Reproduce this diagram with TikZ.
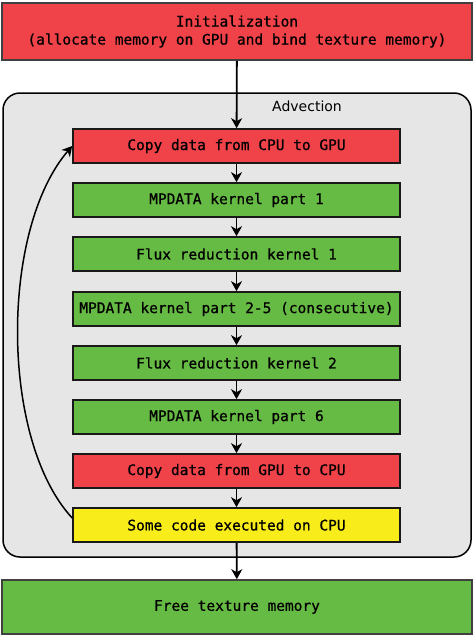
\documentclass[tikz,border=0pt]{standalone}
\usepackage{fontspec}
\setmonofont[FakeBold=0.7]{DejaVu Sans Mono}
\setsansfont{DejaVu Sans}
\usetikzlibrary{arrows.meta,calc}
\definecolor{boxred}{RGB}{240,67,73}
\definecolor{boxgreen}{RGB}{102,187,68}
\definecolor{boxyellow}{RGB}{248,236,26}
\definecolor{contgray}{RGB}{230,230,230}
\begin{document}
\begin{tikzpicture}[x=1pt,y=-1pt,
  every node/.style={font=\ttfamily\fontsize{14.5}{18}\selectfont, text=black},
  stepbox/.style={draw=black!90, line width=1.6pt, minimum width=327pt, minimum height=34pt, inner sep=0pt, align=center},
  widebox/.style={draw=black!75, line width=1.6pt, minimum width=470pt, inner sep=0pt, align=center},
  flow/.style={-{Stealth[length=10pt,width=11pt,inset=3pt]}, line width=1.8pt, black}]
\useasboundingbox (0,0) rectangle (474,635);
\fill[white] (0,0) rectangle (474,635);
% container
\node[draw=black, line width=1.5pt, fill=contgray, rounded corners=17pt, minimum width=468pt, minimum height=464pt, inner sep=0pt] (adv) at (237,325) {};
\node[font=\sffamily\fontsize{14}{16}\selectfont] (advlabel) at (307,106) {Advection};
% boxes
\node[widebox, fill=boxred, minimum height=57pt] (init) at (237,31.5) {Initialization\\(allocate memory on GPU and bind texture memory)};
\node[stepbox, fill=boxred] (c1) at (236.5,146) {Copy data from CPU to GPU};
\node[stepbox, fill=boxgreen] (k1) at (236.5,200) {MPDATA kernel part 1};
\node[stepbox, fill=boxgreen] (f1) at (236.5,254) {Flux reduction kernel 1};
\node[stepbox, fill=boxgreen] (k2) at (236.5,309) {MPDATA kernel part 2-5 (consecutive)};
\node[stepbox, fill=boxgreen] (f2) at (236.5,363) {Flux reduction kernel 2};
\node[stepbox, fill=boxgreen] (k6) at (236.5,417) {MPDATA kernel part 6};
\node[stepbox, fill=boxred] (c2) at (236.5,471) {Copy data from GPU to CPU};
\node[stepbox, fill=boxyellow] (code) at (236.5,525) {Some code executed on CPU};
\node[widebox, fill=boxgreen, minimum height=54pt] (free) at (237,607) {Free texture memory};
% arrows
\draw[flow] (init) -- (c1);
\draw[flow] (c1) -- (k1);
\draw[flow] (k1) -- (f1);
\draw[flow] (f1) -- (k2);
\draw[flow] (k2) -- (f2);
\draw[flow] (f2) -- (k6);
\draw[flow] (k6) -- (c2);
\draw[flow] (c2) -- (code);
\draw[flow] (code) -- (free);
\coordinate (loopstart) at ($(code.west)+(0pt,7pt)$);
\draw[flow, line width=1.5pt] (loopstart) .. controls (0,440) and (0,230) .. (c1.west);
\end{tikzpicture}
\end{document}
